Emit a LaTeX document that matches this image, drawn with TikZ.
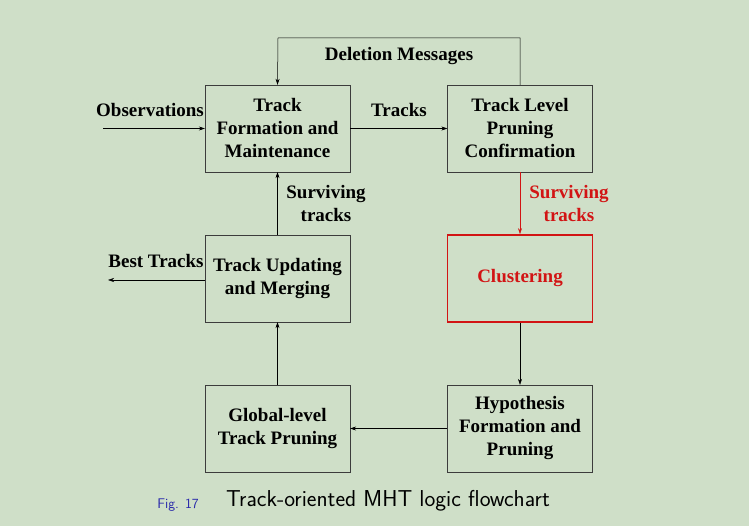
\documentclass[tikz,border=0pt]{standalone}
\usepackage{fontspec}
\setmainfont{Liberation Serif}
\usetikzlibrary{arrows.meta}
\definecolor{bg}{RGB}{207,223,200}
\definecolor{edge}{RGB}{60,60,60}
\definecolor{myred}{RGB}{210,20,20}
\definecolor{figblue}{RGB}{40,40,170}
\begin{document}
\begin{tikzpicture}[x=1pt,y=-1pt,
  box/.style={draw=edge,fill=bg,minimum width=145pt,minimum height=87pt,align=center,font=\bfseries\fontsize{19}{23}\selectfont,inner sep=0pt},
  lab/.style={font=\bfseries\fontsize{19}{23}\selectfont,align=center},
  arr/.style={-{Stealth[length=6pt,width=4pt]},draw=black,line width=0.5pt}]
\fill[bg] (0,0) rectangle (749,526);
\useasboundingbox (0,0) rectangle (749,526);
\node[box] (A) at (277.5,128.5) {Track\\Formation and\\Maintenance};
\node[box] (B) at (520,128.5) {Track Level\\Pruning\\Confirmation};
\node[box,draw=myred,line width=1.6pt,text=myred] (C) at (520,278.5) {Clustering};
\node[box] (D) at (277.5,278.5) {Track Updating\\and Merging};
\node[box] (E) at (277.5,428.5) {Global-level\\Track Pruning};
\node[box] (F) at (520,428.5) {Hypothesis\\Formation and\\Pruning};
\coordinate (obs) at (103,128.5);
\coordinate (best) at (108,280);
\coordinate (t1) at (520,38);
\coordinate (t2) at (278,38);
\draw[arr] (obs) -- (A.west);
\node[lab] (Lobs) at (150,110) {Observations};
\draw[arr] (A.east) -- (B.west);
\node[lab] (Ltr) at (399,110) {Tracks};
\draw[arr] (B.north) -- (t1) -- (t2) -- (A.north);
\node[lab] (Ldel) at (399,56) {Deletion Messages};
\draw[arr,draw=myred] (B.south) -- (C.north);
\node[lab,text=myred] (Ls1) at (569,204) {Surviving\\tracks};
\draw[arr] (C.south) -- (F.north);
\draw[arr] (F.west) -- (E.east);
\draw[arr] (E.north) -- (D.south);
\draw[arr] (D.north) -- (A.south);
\node[lab] (Ls2) at (326,204) {Surviving\\tracks};
\draw[arr] (D.west |- best) -- (best);
\node[lab] (Lbest) at (156,261) {Best Tracks};
\node[font=\sffamily\fontsize{14}{16}\selectfont,text=figblue] (fig) at (178,505) {Fig. 17};
\node[font=\sffamily\fontsize{23}{26}\selectfont] (cap) at (388,501) {Track-oriented MHT logic flowchart};
\end{tikzpicture}
\end{document}
